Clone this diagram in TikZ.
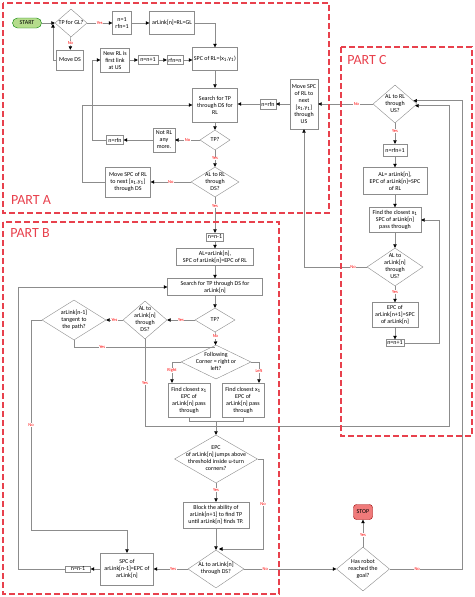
\documentclass[tikz,border=0pt]{standalone}
\usepackage{fontspec}
\setmainfont{Carlito}
\usetikzlibrary{shapes.geometric,arrows.meta}
\definecolor{linegray}{HTML}{8C8C8C}
\definecolor{partred}{HTML}{E8414D}
\definecolor{startgreen}{HTML}{B5DC8C}
\definecolor{stopred}{HTML}{F07A7A}
\newcommand{\dtxt}[1]{\makebox[0pt]{\raisebox{-1.5pt}[0pt][0pt]{\begin{tabular}{@{}c@{}}#1\end{tabular}}}}
\newcommand{\xy}{x\textsubscript{1},y\textsubscript{1}}

\begin{document}
\begin{tikzpicture}[x=1pt,y=-1pt,
  box/.style={draw=linegray, fill=white, font=\fontsize{6}{7}\selectfont, align=center, inner sep=1pt},
  dec/.style={diamond, draw=linegray, fill=white, inner sep=0pt, font=\fontsize{6}{7}\selectfont},
  ln/.style={draw=linegray, line width=0.6pt},
  arr/.style={ln, -{Triangle[length=3.5pt,width=3.5pt,color=black]}},
  lbl/.style={font=\fontsize{4.5}{5}\selectfont, text=red, fill=white, inner sep=0.5pt},
  part/.style={draw=partred, line width=1.4pt, dash pattern=on 6pt off 3pt},
  title/.style={text=partred, font=\fontsize{14}{16}\selectfont}]
  \useasboundingbox (0,0) rectangle (474,597);

  % part A
  \node[box, rounded corners=5pt, fill=startgreen, draw=green!50!black, minimum width=29, minimum height=10] (start) at (27,23) {START};
  \node[dec, minimum width=32, minimum height=28] (tpgl) at (71,23) {\dtxt{TP for GL?}};
  \node[box, minimum width=19, minimum height=23] (init) at (122,23) {n=1\\rfn=1};
  \node[box, minimum width=45, minimum height=23] (arlgl) at (172,23) {arLink[n]=RL=GL};
  \node[box, minimum width=27, minimum height=20] (moveds) at (70,60) {Move DS};
  \node[box, minimum width=29, minimum height=24] (newrl) at (115,60) {New RL is\\first link\\at US};
  \node[box, minimum width=20, minimum height=9] (incA) at (148,60) {n=n+1};
  \node[box, minimum width=16, minimum height=9] (rfnn) at (175,60) {rfn=n};
  \node[box, minimum width=45, minimum height=23] (spcrl) at (215,59) {SPC of RL=(\xy)};
  \node[box, minimum width=45, minimum height=34] (srchA) at (215,105) {Search for TP\\through DS for\\RL};
  \node[box, minimum width=16, minimum height=10] (rfnA) at (268,104) {n=rfn};
  \node[box, minimum width=28, minimum height=50] (mvus) at (304,104) {Move SPC\\of RL to\\next\\{}[\xy]\\through\\US};
  \node[dec, minimum width=30, minimum height=20] (tpA) at (215,140) {\dtxt{TP?}};
  \node[box, minimum width=22, minimum height=24] (notrl) at (164,140) {Not RL\\any\\more.};
  \node[box, minimum width=17, minimum height=9] (rfnB) at (115,140) {n=rfn};
  \node[dec, minimum width=48, minimum height=30] (aldsA) at (215,182) {\dtxt{AL to RL\\through\\DS?}};
  \node[box, minimum width=45, minimum height=30] (mvds) at (128,182) {Move SPC of RL\\to next [\xy]\\through DS};

  % part B
  \node[box, minimum width=17, minimum height=8] (decA) at (215,237) {n=n-1};
  \node[box, minimum width=77, minimum height=17] (alB) at (215,257) {AL=arLink[n],\\SPC of arLink[n]=EPC of RL};
  \node[box, minimum width=95, minimum height=17] (srchB) at (215,287) {Search for TP through DS for\\arLink[n]};
  \node[dec, minimum width=40, minimum height=24] (tpB) at (215,320) {\dtxt{TP?}};
  \node[dec, minimum width=44, minimum height=38] (aldsB) at (145,320) {\dtxt{AL to\\arLink[n]\\through\\DS?}};
  \node[dec, minimum width=64, minimum height=40] (tang) at (74,320) {\dtxt{arLink[n-1]\\tangent to\\the path?}};
  \node[dec, minimum width=70, minimum height=34] (corner) at (216,362) {\dtxt{Following\\Corner = right or\\left?}};
  \node[box, minimum width=42, minimum height=34] (findL) at (189,400) {Find closest x\textsubscript{1}\\EPC of\\arLink[n] pass\\through};
  \node[box, minimum width=42, minimum height=34] (findR) at (243,400) {Find closest x\textsubscript{1}\\EPC of\\arLink[n] pass\\through};
  \coordinate (join) at (216,421);
  \node[dec, minimum width=83, minimum height=48] (epc) at (216,459) {\dtxt{EPC\\of arLink[n] jumps above\\threshold inside u-turn\\corners?}};
  \node[box, minimum width=66, minimum height=26] (block) at (216,515) {Block the ability of\\arLink[n+1] to find TP\\until arLink[n] finds TP.};
  \coordinate (merge) at (219,549);
  \node[dec, minimum width=56, minimum height=38] (aldsC) at (216,569) {\dtxt{AL to arLink[n]\\through DS?}};
  \node[box, minimum width=53, minimum height=32] (spcn) at (127,569) {SPC of\\arLink[n-1]=EPC of\\arLink[n]};
  \node[box, minimum width=25, minimum height=6, inner sep=0.5pt] (decB) at (78,569) {n=n-1};
  \node[dec, minimum width=53, minimum height=44] (goal) at (363,569) {\dtxt{Has robot\\reached the\\goal?}};
  \node[box, rounded corners=3pt, fill=stopred, draw=red!60!black, minimum width=19, minimum height=15] (stop) at (363,512) {STOP};

  % part C
  \node[dec, minimum width=44, minimum height=38] (alusA) at (395,104) {\dtxt{AL to RL\\through\\US?}};
  \node[box, minimum width=24, minimum height=12] (rfnC) at (395,150) {n=rfn+1};
  \node[box, minimum width=64, minimum height=27] (alC) at (395,181) {AL= arLink[n],\\EPC of arLink[n]=SPC\\of RL};
  \node[box, minimum width=52, minimum height=25] (findC) at (395,220) {Find the closest x\textsubscript{1}\\SPC of arLink[n]\\pass through};
  \node[dec, minimum width=56, minimum height=38] (alusB) at (395,267) {\dtxt{AL to\\arLink[n]\\through\\US?}};
  \node[box, minimum width=46, minimum height=25] (epcC) at (395,315) {EPC of\\arLink[n+1]=SPC\\of arLink[n]};
  \node[box, minimum width=18, minimum height=7, inner sep=0.5pt] (incC) at (395,343) {n=n+1};

  % connectors A
  \draw[arr] (start) -- (tpgl);
  \draw[arr] (tpgl) -- node[lbl]{Yes} (init);
  \draw[arr] (init) -- (arlgl);
  \draw[arr] (arlgl) -| (spcrl);
  \draw[arr] (tpgl) -- node[lbl]{No} (moveds);
  \coordinate (backA) at (53,24);
  \draw[arr] (moveds.west) -| (backA);
  \draw[arr] (newrl) -- (incA);
  \draw[arr] (incA) -- (rfnn);
  \draw[arr] (rfnn.east) -- (rfnn.east -| spcrl.west);
  \draw[arr] (spcrl) -- (srchA);
  \draw[arr] (srchA) -- (tpA);
  \draw[arr] (tpA) -- node[lbl]{No} (notrl);
  \draw[arr] (notrl) -- (rfnB);
  \draw[arr] (rfnB.west) -- (92,140) |- (newrl.west);
  \draw[arr] (tpA) -- node[lbl]{Yes} (aldsA);
  \draw[arr] (aldsA) -- node[lbl]{No} (mvds);
  \draw[arr] (mvds.west) -- (82,182) |- (srchA.west);
  \draw[arr] (aldsA) -- node[lbl, pos=0.25]{Yes} (decA);
  \draw[arr] (alusA) -- node[lbl, pos=0.3]{No} (mvus);
  \draw[arr] (mvus) -- (rfnA);
  \draw[arr] (rfnA.west) -- (rfnA.west -| srchA.east);

  % connectors C
  \draw[arr] (alusA) -- node[lbl, pos=0.4]{Yes} (rfnC);
  \draw[arr] (rfnC) -- (alC);
  \draw[arr] (alC) -- (findC);
  \draw[arr] (findC) -- (alusB);
  \draw[arr] (alusB.west) -- node[lbl, pos=0.22]{No} (304,267) -- (mvus.south);
  \draw[arr] (alusB) -- node[lbl, pos=0.35]{Yes} (epcC);
  \draw[arr] (epcC) -- (incC);
  \draw[arr] (incC.east) -- (439,343) |- (findC.east);

  % connectors B
  \draw[arr] (decA) -- (alB);
  \draw[arr] (alB) -- (srchB);
  \draw[arr] (srchB) -- (tpB);
  \draw[arr] (tpB) -- node[lbl]{Yes} (aldsB);
  \draw[arr] (aldsB) -- node[lbl]{Yes} (tang);
  \draw[arr] (tpB) -- node[lbl, pos=0.35]{No} (corner);
  \draw[ln] (tang.south) |- node[lbl, pos=0.6]{Yes} (215,347);
  \draw[arr] (aldsB.south) -- node[lbl]{Yes} (145,426) -- (449,426) |- (alusA.-5);
  \draw[arr] (corner.west) -| node[lbl, pos=0.71]{Right} ([xshift=-17pt]findL.north);
  \draw[arr] (corner.east) -| node[lbl, pos=0.71]{Left} ([xshift=16pt]findR.north);
  \draw[ln] (findL.south) -- ++(0,4) -| (findR.south);
  \draw[arr] (join) -- (epc.north);
  \draw[arr] (epc) -- node[lbl, pos=0.37]{Yes} (block);
  \draw[arr] (block) -- (aldsC);
  \draw[arr] (epc.east) -- (263,459) -- node[lbl]{No} (263,549) -- (merge);
  \draw[arr] (aldsC) -- node[lbl, pos=0.43]{Yes} (spcn);
  \draw[arr] (aldsC) -- node[lbl, pos=0.23]{No} (goal);
  \draw[arr] (goal) -- node[lbl, pos=0.44]{Yes} (stop);
  \draw[arr] (goal) -- node[lbl, pos=0.38]{No} (462,569) |- (alusA.10);
  \draw[arr] (spcn) -- (decB);
  \draw[arr] (decB.west) -- (18,569) |- (srchB.west);
  \draw[arr] (tang.west) -- (31,320) -- node[lbl]{No} (31,530) -| (spcn.north);

  % parts
  \draw[part] (3,3) rectangle (329,213);
  \draw[part] (3,222) rectangle (279,594);
  \draw[part] (341,47) rectangle (472,436);
  \node[title] (pa) at (31,200) {PART A};
  \node[title] (pb) at (30,233) {PART B};
  \node[title] (pc) at (367,60) {PART C};
\end{tikzpicture}
\end{document}
